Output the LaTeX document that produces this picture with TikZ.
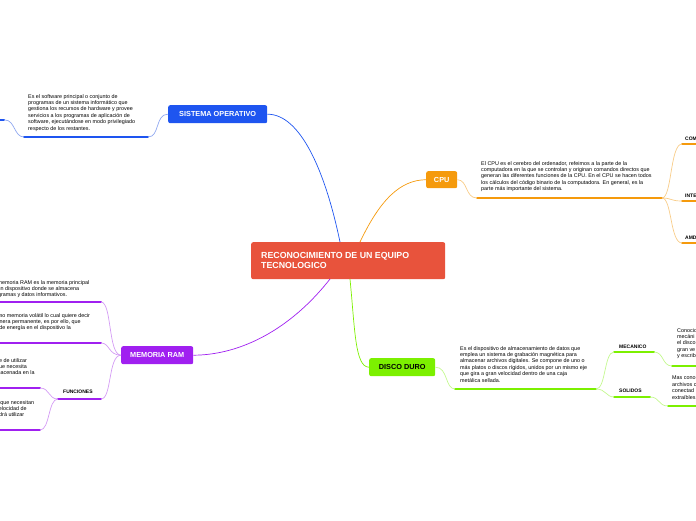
\documentclass[tikz,border=0pt]{standalone}
\usepackage{fontspec}
\setmainfont{Liberation Sans}
\begin{document}
\begin{tikzpicture}[x=1pt,y=-1pt,
  box/.style={rounded corners=2pt,text=white,font=\bfseries\fontsize{7.3}{8}\selectfont,inner sep=0pt,anchor=north west},
  txt/.style={font=\fontsize{5.4}{6.4}\selectfont,align=left,inner sep=0pt,anchor=north west},
  lbl/.style={font=\bfseries\fontsize{5}{6}\selectfont,inner sep=0pt,anchor=south west},
  ul/.style={line width=2pt,line cap=round},
  cn/.style={line width=0.7pt}]
\definecolor{cc}{HTML}{E8533C}\definecolor{cb}{HTML}{1E55F0}\definecolor{co}{HTML}{F59A0C}
\definecolor{cg}{HTML}{7CF000}\definecolor{cp}{HTML}{A020F0}
\definecolor{lb}{HTML}{90A8F0}\definecolor{lo}{HTML}{F8CC88}\definecolor{lg}{HTML}{C4F890}\definecolor{lp}{HTML}{D49CF4}
\useasboundingbox (0,0) rectangle (696,520);
\clip (0,0) rectangle (696,520);
% center
\node[box,fill=cc,minimum width=194,minimum height=37,font=\bfseries\fontsize{8.8}{10}\selectfont,text width=174,align=flush left,inner xsep=10pt,anchor=north west] (c) at (251,242) {RECONOCIMIENTO DE UN EQUIPO\\TECNOLOGICO};
% SO
\node[box,fill=cb,minimum width=99,minimum height=18,anchor=north west] (so) at (168,105) {SISTEMA OPERATIVO};
\draw[cn,cb] (340,242) .. controls (325,170) and (300,114) .. (so.east);
\node[txt] (sot) at (28,94) {Es el software principal o conjunto de\\programas de un sistema informático que\\gestiona los recursos de hardware y provee\\servicios a los programas de aplicación de\\software, ejecutándose en modo privilegiado\\respecto de los restantes.};
\draw[ul,cb] (24,137) coordinate (so1) -- (148,137) coordinate (so2);
\draw[cn,lb] (so.west) .. controls (155,114) and (160,137) .. (so2);
\draw[cn,lb] (so1) .. controls (14,137) and (15,120) .. (5,120);
\draw[ul,cb] (-5,120) -- (4,120);
% CPU
\node[box,fill=co,minimum width=31,minimum height=17] (cpu) at (426,171) {CPU};
\draw[cn,co] (360,242) .. controls (380,200) and (400,180) .. (cpu.west);
\node[txt] at (481,161) {El CPU es el cerebro del ordenador, refeimos a la parte de la\\computadora en la que se controlan y originan comandos directos que\\generan las diferentes funciones de la CPU. En el CPU se hacen todos\\los cálculos del código binario de la computadora. En general, es la\\parte más importante del sistema.};
\draw[ul,co] (477,198) coordinate (c1) -- (662,198) coordinate (c2);
\draw[cn,lo] (cpu.east) .. controls (468,180) and (465,198) .. (c1);
\foreach \y/\t in {144/COM,201/INTE,243/AMD}{
  \node[lbl] at (685,\y-3) {\t};
  \draw[ul,co] (682,\y) -- (700,\y);
  \draw[cn,lo] (c2) .. controls (672,198) and (670,\y) .. (682,\y);}
% DISCO
\node[box,fill=cg,text=black,minimum width=66,minimum height=18] (dd) at (369,358) {DISCO DURO};
\draw[cn,cg] (350,279) .. controls (355,330) and (355,367) .. (dd.west);
\node[txt] at (460,346) {Es el dispositivo de almacenamiento de datos que\\emplea un sistema de grabación magnética para\\almacenar archivos digitales. Se compone de uno o\\más platos o discos rígidos, unidos por un mismo eje\\que gira a gran velocidad dentro de una caja\\metálica sellada.};
\draw[ul,cg] (455,389) coordinate (d1) -- (596,389) coordinate (d2);
\draw[cn,lg] (dd.east) .. controls (448,367) and (445,389) .. (d1);
\node[lbl] at (619,349) {MECANICO};
\draw[ul,cg] (614,352) coordinate (m1) -- (654,352) coordinate (m2);
\node[lbl] at (619,393) {SOLIDOS};
\draw[ul,cg] (614,397) coordinate (s1) -- (650,397) coordinate (s2);
\draw[cn,lg] (d2) .. controls (606,389) and (604,352) .. (m1);
\draw[cn,lg] (d2) .. controls (606,389) and (606,397) .. (s1);
\node[txt] at (677,328) {Conocio\\mecáni\\el disco\\gran ve\\y escrib};
\draw[ul,cg] (672,366) coordinate (m3) -- (700,366);
\draw[cn,lg] (m2) .. controls (664,352) and (662,366) .. (m3);
\node[txt] at (672,376) {Mas cono\\archivos c\\conectad\\extraíbles};
\draw[ul,cg] (668,406) coordinate (s3) -- (700,406);
\draw[cn,lg] (s2) .. controls (660,397) and (658,406) .. (s3);
% RAM
\node[box,fill=cp,minimum width=72,minimum height=18] (ram) at (121,346) {MEMORIA RAM};
\draw[cn,cp] (330,279) .. controls (290,330) and (240,355) .. (ram.east);
\node[txt,anchor=north west] at (-10,280) {La memoria RAM es la memoria principal\\de un dispositivo donde se almacena\\programas y datos informativos.};
\draw[ul,cp] (-5,302) -- (101,302) coordinate (r1);
\node[txt,anchor=north west] at (-8,313) {como memoria volátil lo cual quiere decir\\ manera permanente, es por ello, que\\es de energía en el dispositivo la};
\draw[ul,cp] (-5,343) -- (101,343) coordinate (r2);
\node[lbl] at (63,394) {FUNCIONES};
\draw[ul,cp] (58,399) coordinate (f1) -- (101,399) coordinate (r3);
\draw[cn,lp] (ram.west) .. controls (108,355) and (112,302) .. (r1);
\draw[cn,lp] (ram.west) .. controls (108,355) and (110,343) .. (r2);
\draw[cn,lp] (ram.west) .. controls (108,355) and (112,399) .. (r3);
\node[txt,anchor=north west] at (-4,358) {de de utilizar\\ que necesita\\ macenada en la};
\draw[ul,cp] (-5,388) -- (40,388) coordinate (g1);
\node[txt,anchor=north west] at (-4,400) {s que necesitan\\ velocidad de\\ odrá utilizar};
\draw[ul,cp] (-5,430) -- (40,430) coordinate (g2);
\draw[cn,lp] (f1) .. controls (48,399) and (50,388) .. (g1);
\draw[cn,lp] (f1) .. controls (48,399) and (50,430) .. (g2);
\end{tikzpicture}
\end{document}
